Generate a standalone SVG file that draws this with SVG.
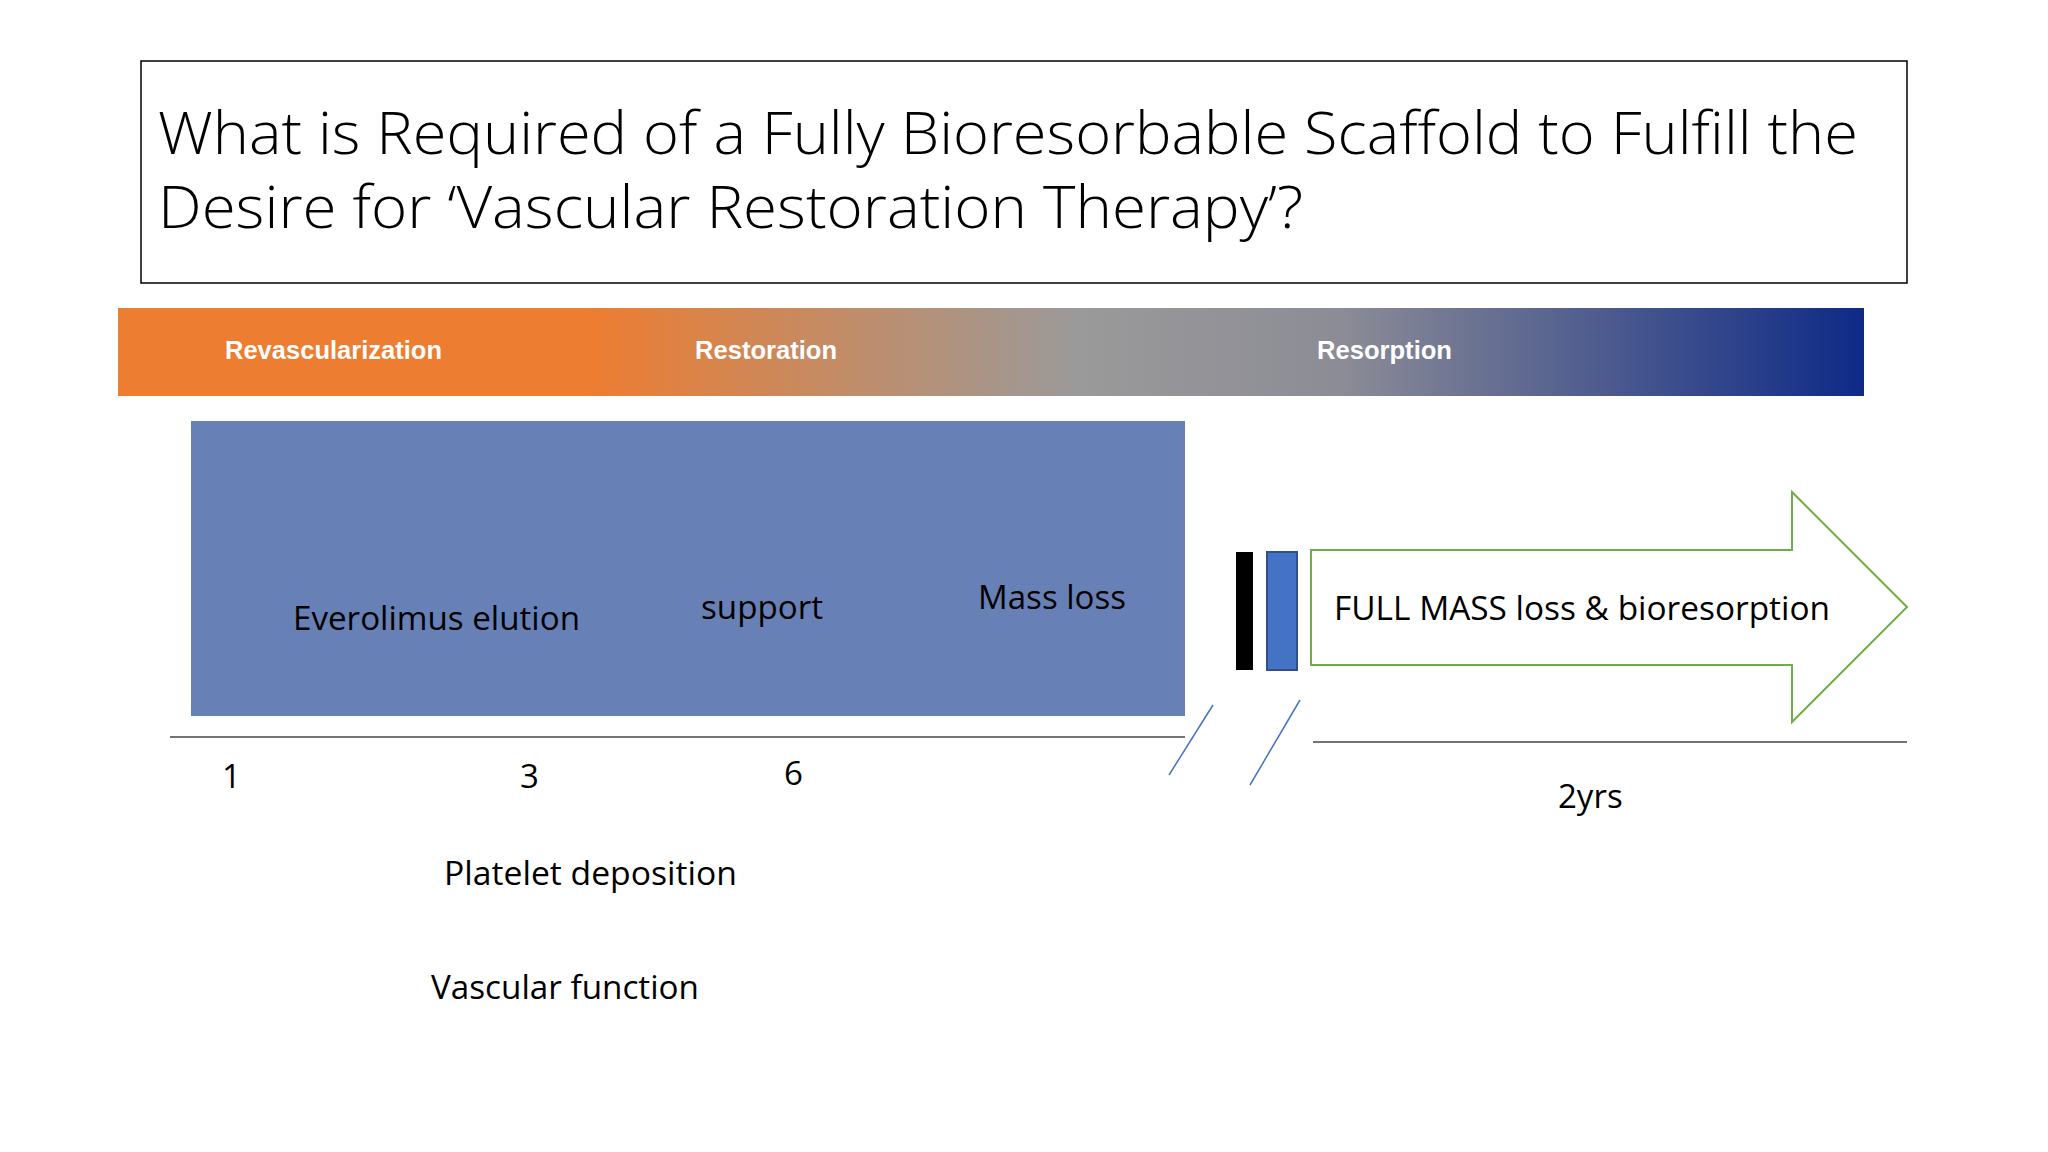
<svg xmlns="http://www.w3.org/2000/svg" width="2048" height="1152" viewBox="0 0 2048 1152">
<defs>
<linearGradient id="g" x1="0" x2="1" y1="0" y2="0">
<stop offset="0" stop-color="#ED7D31"/>
<stop offset="0.27" stop-color="#ED7D31"/>
<stop offset="0.55" stop-color="#9A9A9A"/>
<stop offset="0.7" stop-color="#8C8C96"/>
<stop offset="1" stop-color="#0E2A87"/>
</linearGradient>
<style>
.t{font-family:"Open Sans","Noto Sans",sans-serif;fill:#000;font-size:33px}
.w{font-family:"Liberation Sans",Arial,sans-serif;fill:#fff;font-weight:bold;font-size:25px}
</style>
</defs>
<rect width="2048" height="1152" fill="#fff"/>
<g id="title">
<rect x="141" y="61" width="1766" height="222" fill="#fff" stroke="#000" stroke-width="1.5"/>
<text class="t" x="158" y="154" style="font-size:58px;font-weight:300" textLength="1700" lengthAdjust="spacingAndGlyphs">What is Required of a Fully Bioresorbable Scaffold to Fulfill the</text>
<text class="t" x="158" y="228" style="font-size:58px;font-weight:300" textLength="1145" lengthAdjust="spacingAndGlyphs">Desire for ‘Vascular Restoration Therapy’?</text>
</g>
<g id="phasebar">
<rect x="118" y="308" width="1746" height="88" fill="url(#g)"/>
<rect x="118" y="308" width="424" height="88" fill="#ED7D31"/>
<text class="w" x="225" y="359" textLength="217" lengthAdjust="spacingAndGlyphs">Revascularization</text>
<text class="w" x="695" y="359" textLength="142" lengthAdjust="spacingAndGlyphs">Restoration</text>
<text class="w" x="1317" y="359" textLength="135" lengthAdjust="spacingAndGlyphs">Resorption</text>
</g>
<g id="support">
<rect x="191" y="421" width="994" height="295" fill="#6781B6"/>
<text class="t" x="293" y="630" textLength="287" lengthAdjust="spacingAndGlyphs">Everolimus elution</text>
<text class="t" x="701" y="619" textLength="122" lengthAdjust="spacingAndGlyphs">support</text>
<text class="t" x="978" y="609" textLength="148" lengthAdjust="spacingAndGlyphs">Mass loss</text>
</g>
<g id="breakmarks">
<rect x="1236" y="552" width="17" height="118" fill="#000"/>
<rect x="1267" y="552" width="30" height="118" fill="#4472C4" stroke="#2F4F8F" stroke-width="2"/>
</g>
<g id="fullmass">
<polygon points="1311,550 1792,550 1792,492 1907,607 1792,722 1792,665 1311,665" fill="#fff" stroke="#70AD47" stroke-width="2"/>
<text class="t" x="1334" y="620" textLength="496" lengthAdjust="spacingAndGlyphs">FULL MASS loss &amp; bioresorption</text>
</g>
<g id="connectors" stroke-width="1.5">
<line x1="170" y1="737" x2="1185" y2="737" stroke="#444"/>
<line x1="1313" y1="742" x2="1907" y2="742" stroke="#444"/>
<line x1="1169" y1="775" x2="1213" y2="705" stroke="#4472C4"/>
<line x1="1250" y1="785" x2="1300" y2="700" stroke="#4472C4"/>
</g>
<g id="labels">
<text class="t" x="222" y="788">1</text>
<text class="t" x="520" y="788">3</text>
<text class="t" x="784" y="785">6</text>
<text class="t" x="1558" y="808">2yrs</text>
<text class="t" x="444" y="885" textLength="293" lengthAdjust="spacingAndGlyphs">Platelet deposition</text>
<text class="t" x="431" y="999" textLength="268" lengthAdjust="spacingAndGlyphs">Vascular function</text>
</g>
</svg>
